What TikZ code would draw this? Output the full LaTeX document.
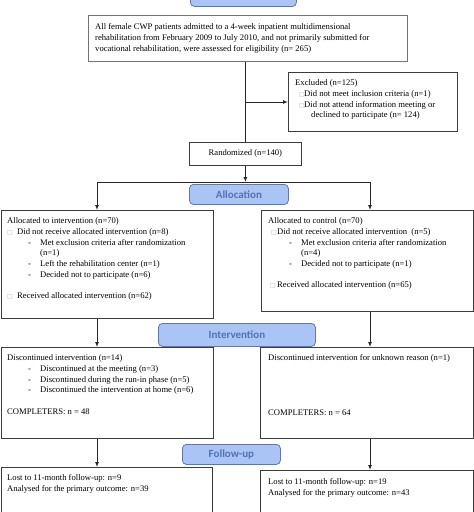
\documentclass[tikz,border=0pt]{standalone}
\usepackage{fontspec}
\setmainfont{Liberation Serif}
\newfontfamily\carl{Carlito}
\newfontfamily\djv{DejaVu Sans}
\usetikzlibrary{arrows.meta}
\definecolor{bfill}{RGB}{170,197,245}
\definecolor{bdraw}{RGB}{100,118,165}
\definecolor{btext}{RGB}{84,114,178}
\definecolor{boxline}{RGB}{60,60,60}
\newcommand\bul{\textcolor{black!30}{\djv\fontsize{6}{6}\selectfont □}}
\newcommand\dsh[1]{\hspace*{21pt}\makebox[12pt][l]{-}#1}
\begin{document}
\begin{tikzpicture}[x=1pt,y=-1pt,
  box/.style={draw=boxline, line width=0.8pt, fill=white, inner sep=0pt, anchor=north west},
  topbox/.style={box, draw=black!55, line width=1.1pt},
  phase/.style={draw=bdraw, fill=bfill, rounded corners=4pt, line width=0.8pt, inner sep=0pt, anchor=north west, text=btext, font=\carl\bfseries\fontsize{11}{12}\selectfont},
  txt/.style={anchor=north west, inner sep=0pt, align=left, font=\fontsize{8.6}{10.7}\selectfont},
  ctxt/.style={inner sep=0pt, font=\fontsize{8.6}{10.7}\selectfont},
  conn/.style={draw=black!85, line width=0.9pt},
  arr/.style={conn, -{Latex[length=5pt,width=4pt]}}]
\useasboundingbox (0,0) rectangle (474,512);
\clip (0,0) rectangle (474,512);

% boxes
\node[phase, minimum width=106pt, minimum height=24pt] (enrol) at (190,-18) {};
\node[topbox, minimum width=319pt, minimum height=46pt] (top) at (88,15) {};
\node[box, minimum width=169pt, minimum height=59pt] (excl) at (288,72) {};
\node[box, minimum width=112pt, minimum height=23pt] (rand) at (189,142) {};
\node[box, minimum width=212pt, minimum height=108pt] (allocL) at (1,210) {};
\node[box, minimum width=212pt, minimum height=101pt] (allocR) at (261,210) {};
\node[box, minimum width=212pt, minimum height=91pt] (discL) at (1,347) {};
\node[box, minimum width=213pt, minimum height=91pt] (discR) at (260,347) {};
\node[box, minimum width=211pt, minimum height=70pt] (finL) at (1,467) {};
\node[box, minimum width=213pt, minimum height=70pt] (finR) at (260,470) {};

% connectors
\coordinate (j1) at (rand.north |- 0,102);
\draw[conn] (rand.north |- top.south) -- (rand.north);
\draw[arr] (j1) -- (j1 -| excl.west);
\coordinate (split) at (rand.south |- 0,182);
\coordinate (bl) at (97,182);
\coordinate (brr) at (370,182);
\draw[arr] (rand.south) -- (split);
\draw[conn] (bl) -- (brr);
\draw[arr] (bl) -- (bl |- allocL.north);
\draw[arr] (brr) -- (brr |- allocR.north);
\draw[arr] (bl |- allocL.south) -- (bl |- discL.north);
\draw[arr] (brr |- allocR.south) -- (brr |- discR.north);
\draw[arr] (bl |- discL.south) -- (bl |- finL.north);
\draw[arr] (brr |- discR.south) -- (brr |- finR.north);

% phase labels
\node[phase, minimum width=99pt, minimum height=20pt] (alloc) at (189,184) {Allocation};
\node[phase, minimum width=157pt, minimum height=23pt] (interv) at (158,323) {Intervention};
\node[phase, minimum width=98pt, minimum height=20pt] (follow) at (182,444) {Follow-up};

% texts
\node[txt] (topT) at (95,23.5) {All female CWP patients admitted to a 4-week inpatient multidimensional\\
rehabilitation from February 2009 to July 2010, and not primarily submitted for\\
vocational rehabilitation, were assessed for eligibility (n= 265)};
\node[txt] (exclT) at (295,79.5) {Excluded (n=125)\\
\hspace*{4pt}\makebox[5pt][l]{\bul}Did not meet inclusion criteria (n=1)\\
\hspace*{4pt}\makebox[5pt][l]{\bul}Did not attend information meeting or\\
\hspace*{16pt}declined to participate (n= 124)};
\node[ctxt] (randT) at (rand.center) {Randomized (n=140)};
\node[txt] (allocLT) at (7,217.5) {Allocated to intervention (n=70)\\
\makebox[10pt][l]{\bul}Did not receive allocated intervention (n=8)\\
\dsh{Met exclusion criteria after randomization}\\
\hspace*{33pt}(n=1)\\
\dsh{Left the rehabilitation center (n=1)}\\
\dsh{Decided not to participate (n=6)}\\
\mbox{}\\
\makebox[10pt][l]{\bul}Received allocated intervention (n=62)};
\node[txt] (allocRT) at (268,217.5) {Allocated to control (n=70)\\
\hspace*{3pt}\makebox[6pt][l]{\bul}Did not receive allocated intervention\ \ (n=5)\\
\dsh{Met exclusion criteria after randomization}\\
\hspace*{33pt}(n=4)\\
\dsh{Decided not to participate (n=1)}\\
\mbox{}\\
\hspace*{2pt}\makebox[7pt][l]{\bul}Received allocated intervention (n=65)};
\node[txt] (discLT) at (7,354.5) {Discontinued intervention (n=14)\\
\dsh{Discontinued at the meeting (n=3)}\\
\dsh{Discontinued during the run-in phase (n=5)}\\
\dsh{Discontinued the intervention at home (n=6)}\\
\mbox{}\\
COMPLETERS: n = 48};
\node[txt] (discRT) at (268,354.5) {Discontinued intervention for unknown reason (n=1)};
\node[txt] (compR) at (268,409.5) {COMPLETERS: n = 64};
\node[txt] (finLT) at (7,474.5) {Lost to 11-month follow-up: n=9\\
Analysed for the primary outcome: n=39};
\node[txt] (finRT) at (268,478.5) {Lost to 11-month follow-up: n=19\\
Analysed for the primary outcome: n=43};
\end{tikzpicture}
\end{document}
